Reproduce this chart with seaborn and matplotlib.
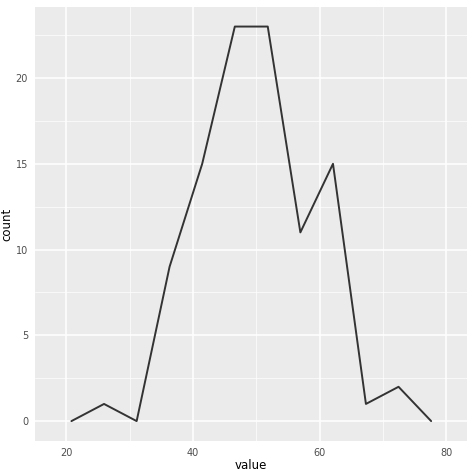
import matplotlib
matplotlib.use("Agg")
import matplotlib.pyplot as plt
import seaborn as sns
import pandas as pd
from matplotlib.ticker import MultipleLocator

value = [20.8, 25.95, 31.1, 36.3, 41.45, 46.6, 51.8, 56.95, 62.1, 67.3, 72.45, 77.6]
count = [0, 1, 0, 9, 15, 23, 23, 11, 15, 1, 2, 0]
x_ticks = [20, 40, 60, 80]
y_ticks = [0, 5, 10, 15, 20]

df = pd.DataFrame({"value": value, "count": count})

sns.set_theme(style="darkgrid")
plt.rcParams['font.family'] = ['DejaVu Sans']

fig = plt.figure(figsize=(4.74, 4.72), dpi=100)
ax = fig.add_axes([35/474, 1 - 441/472, (467 - 35)/474, (441 - 7)/472])
ax.set_facecolor("#EBEBEB")

sns.lineplot(data=df, x="value", y="count", ax=ax, color="#333333", linewidth=1.4)

ax.set_xlim(15.05, 83.26)
ax.set_ylim(-1.16, 24.14)
ax.set_xticks(x_ticks)
ax.set_yticks(y_ticks)
ax.xaxis.set_minor_locator(MultipleLocator(10))
ax.yaxis.set_minor_locator(MultipleLocator(2.5))
ax.grid(which="major", color="white", linewidth=1.1)
ax.grid(which="minor", color="white", linewidth=0.5)
ax.set_axisbelow(True)
for s in ax.spines.values():
    s.set_visible(False)

ax.tick_params(axis="both", which="major", length=3, width=0.8, color="#333333",
               labelsize=7, labelcolor="#4D4D4D", pad=2)
ax.tick_params(axis="both", which="minor", length=0)
ax.set_xlabel("value", fontsize=8.5, color="black", labelpad=1)
ax.set_ylabel("count", fontsize=8.5, color="black", labelpad=2)

fig.savefig("out.png", dpi=100, facecolor="white")
